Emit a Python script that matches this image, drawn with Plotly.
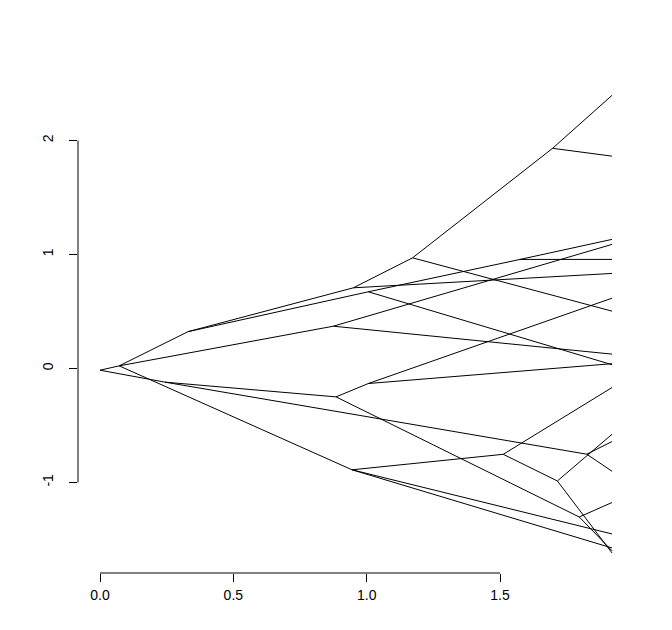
import plotly.graph_objects as go

# Tree nodes: time (x) and trait value (y)
node_names = ["R", "A", "Q", "B", "C", "D", "E", "F", "G", "P", "H", "I", "J", "K", "L", "M", "N",
              "t1", "t2", "t3", "t4", "t5", "t6", "t7", "t8", "t9", "t10",
              "t11", "t12", "t13", "t14", "t15", "t16", "t17", "t18", "t19", "t20"]
node_time = [0.000, 0.072, 0.244, 0.330, 0.875, 0.950, 1.006, 1.172, 1.697, 1.575,
             0.885, 1.006, 0.945, 1.512, 1.715, 1.825, 1.797,
             1.92, 1.92, 1.92, 1.92, 1.92, 1.92, 1.92, 1.92, 1.92, 1.92,
             1.92, 1.92, 1.92, 1.92, 1.92, 1.92, 1.92, 1.92, 1.92, 1.92]
node_value = [-0.015, 0.023, -0.120, 0.323, 0.371, 0.708, 0.673, 0.971, 1.932, 0.957,
              -0.249, -0.132, -0.889, -0.753, -0.987, -0.752, -1.303,
              2.397, 1.863, 0.503, 0.834, 1.133, 0.957, 0.033, 1.089, 0.126, 0.617,
              0.042, -0.641, -0.902, -1.176, -1.600, -1.452, -1.575, -0.167, -0.577, -1.619]

edge_from = ["R", "R", "A", "A", "A", "Q", "Q", "B", "B", "D", "D", "F", "F", "G", "G",
             "E", "E", "P", "P", "C", "C", "H", "H", "I", "I", "M", "M", "N", "N",
             "J", "J", "J", "K", "K", "L", "L"]
edge_to = ["A", "Q", "B", "C", "J", "H", "M", "D", "E", "F", "t4", "G", "t3", "t1", "t2",
           "P", "t7", "t5", "t6", "t8", "t9", "I", "N", "t10", "t11", "t12", "t13", "t14", "t15",
           "K", "t16", "t17", "t18", "L", "t19", "t20"]

x_ticks = [0.0, 0.5, 1.0, 1.5]
x_tick_labels = ["0.0", "0.5", "1.0", "1.5"]
y_ticks = [-1, 0, 1, 2]
y_tick_labels = ["-1", "0", "1", "2"]

idx = {n: i for i, n in enumerate(node_names)}
xs, ys = [], []
for a, b in zip(edge_from, edge_to):
    xs += [node_time[idx[a]], node_time[idx[b]], None]
    ys += [node_value[idx[a]], node_value[idx[b]], None]

fig = go.Figure()
fig.add_trace(go.Scatter(x=xs, y=ys, mode="lines",
                         line=dict(color="black", width=1),
                         hoverinfo="skip", showlegend=False))

# page body has an 8px margin; figure sized to fit inside the window
W, H = 664, 622
OFF = 8
ml, mr, mt, mb = 78 - OFF, 0, 40 - OFF, 0
px_per_x = 266.7
px_per_y = 113.9
x0_px = 100.0 - OFF
y0_px = 368.3 - OFF
bottom_px = 572.7 - OFF
mb = H - bottom_px
xr = [(ml - x0_px) / px_per_x, (W - mr - x0_px) / px_per_x]
yr = [(y0_px - bottom_px) / px_per_y, (y0_px - mt) / px_per_y]

font = dict(family="Liberation Sans, Arial, sans-serif", size=14, color="black")

fig.update_layout(
    width=W, height=H,
    margin=dict(l=ml, r=mr, t=mt, b=mb, pad=0),
    paper_bgcolor="white", plot_bgcolor="white",
    font=font,
    xaxis=dict(range=xr, showgrid=False, zeroline=False, showline=False,
               tickmode="array", tickvals=x_ticks, ticktext=x_tick_labels,
               ticks="outside", ticklen=8, tickwidth=1, tickcolor="black",
               ticklabelstandoff=1, fixedrange=True),
    yaxis=dict(range=yr, showgrid=False, zeroline=False, showline=False,
               tickmode="array", tickvals=y_ticks, ticktext=y_tick_labels,
               ticks="outside", ticklen=8, tickwidth=1, tickcolor="black",
               tickangle=-90, ticklabelstandoff=10, fixedrange=True),
    shapes=[
        dict(type="line", xref="paper", yref="y", x0=0, x1=0,
             y0=min(y_ticks), y1=max(y_ticks), line=dict(color="black", width=1)),
        dict(type="line", xref="x", yref="paper", x0=min(x_ticks), x1=max(x_ticks),
             y0=0, y1=0, line=dict(color="black", width=1)),
    ],
)

fig.write_html("out.html")
